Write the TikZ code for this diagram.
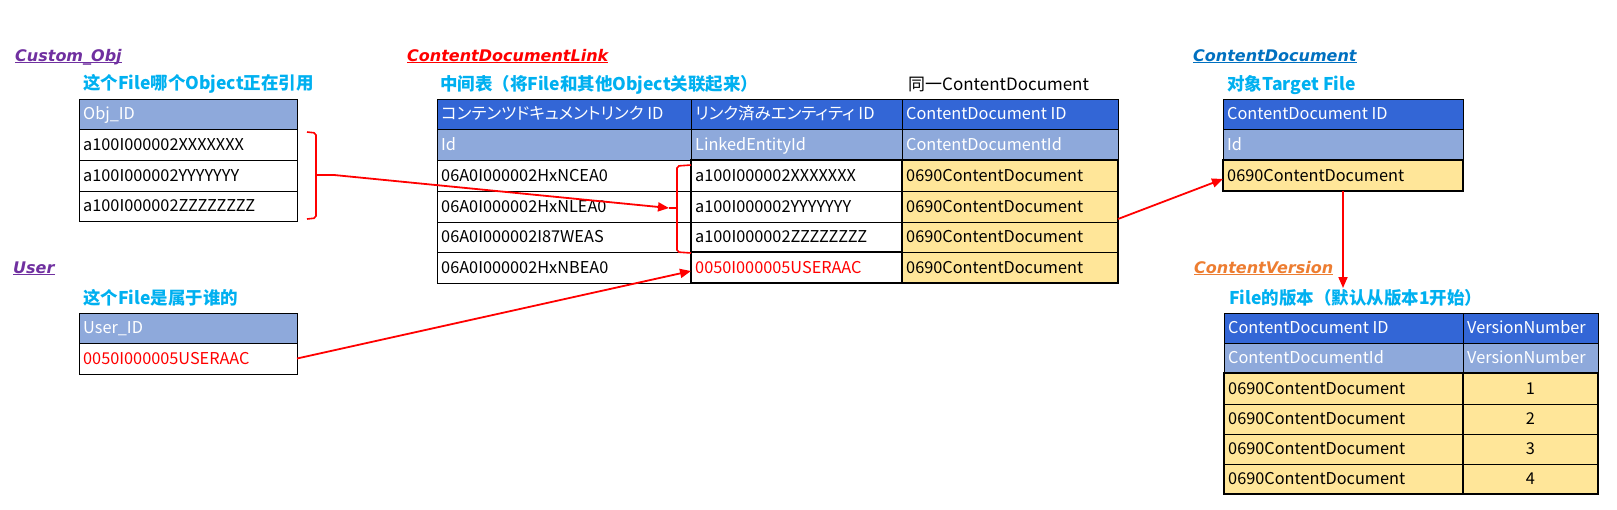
\documentclass[tikz,border=0pt]{standalone}
\usepackage{fontspec}
\newfontfamily\jpfont{Noto Sans CJK JP}
\newfontfamily\cnfont{Noto Sans CJK SC}
\newfontfamily\ttlfont{DejaVu Sans}
\usetikzlibrary{arrows.meta}
\definecolor{hdark}{RGB}{51,102,214}
\definecolor{hlight}{RGB}{142,169,219}
\definecolor{cyel}{RGB}{255,230,153}
\definecolor{tpurple}{RGB}{112,48,160}
\definecolor{tblue}{RGB}{0,112,192}
\definecolor{torange}{RGB}{237,125,49}
\definecolor{subcyan}{RGB}{0,176,240}
\tikzset{
  cellbox/.style={draw=black, line width=0.9pt, anchor=north west, inner sep=0pt, outer sep=0pt},
  dk/.style={cellbox, fill=hdark},
  lt/.style={cellbox, fill=hlight},
  wh/.style={cellbox, fill=white},
  ye/.style={cellbox, fill=cyel},
  ctext/.style={font=\jpfont\fontsize{16.3}{17}\selectfont, inner sep=0pt, anchor=base west},
  tw/.style={text=white},
  tr/.style={text=red},
  kana/.style={font=\jpfont\addfontfeature{RawFeature=+palt}\fontsize{16.5}{17}\selectfont},
  ttl/.style={font=\ttlfont\bfseries\itshape\fontsize{16}{16}\selectfont, anchor=base west, inner sep=0pt},
  uline/.style={line width=1.2pt},
  sub/.style={font=\cnfont\bfseries\fontsize{17.5}{18}\selectfont, text=subcyan, anchor=base west, inner sep=0pt},
  thickb/.style={draw=black, line width=2.6pt, line cap=rect},
  arr/.style={red, line width=1.8pt, -{Triangle[length=11pt,width=9pt]}},
  brk/.style={red, line width=1.6pt, rounded corners=2pt}
}
\newcommand\tcell[8]{%
  \node[#6, minimum width=#4pt, minimum height=#5pt] (#1) at (#2,#3) {};
  \node[ctext,#7] (#1t) at ([xshift=4pt,yshift=-5.8pt]#1.west) {#8};}
\newcommand\ccell[8]{%
  \node[#6, minimum width=#4pt, minimum height=#5pt] (#1) at (#2,#3) {};
  \node[ctext,anchor=base,#7] (#1t) at ([yshift=-5.8pt]#1.center) {#8};}
\begin{document}
\begin{tikzpicture}[x=1pt,y=-1pt]
\useasboundingbox (0,0) rectangle (1617,509);
% ---------- titles ----------
\node[ttl, text=tpurple] (tCO) at (15,61) {Custom\_Obj};
\draw[tpurple, uline] ([yshift=-1.5pt]tCO.base west) -- ([yshift=-1.5pt]tCO.base east);
\node[ttl, text=tpurple] (tU) at (13,273) {User};
\draw[tpurple, uline] ([yshift=-1.5pt]tU.base west) -- ([yshift=-1.5pt]tU.base east);
\node[ttl, text=red] (tL) at (407,61) {ContentDocumentLink};
\draw[red, uline] ([yshift=-1.5pt]tL.base west) -- ([yshift=-1.5pt]tL.base east);
\node[ttl, text=tblue] (tD) at (1193,61) {ContentDocument};
\draw[tblue, uline] ([yshift=-1.5pt]tD.base west) -- ([yshift=-1.5pt]tD.base east);
\node[ttl, text=torange] (tV) at (1194,273) {ContentVersion};
\draw[torange, uline] ([yshift=-1.5pt]tV.base west) -- ([yshift=-1.5pt]tV.base east);
% ---------- subtitles ----------
\node[sub] (sCO) at (83,89.5) {这个File哪个Object正在引用};
\node[sub] (sU) at (83,304.5) {这个File是属于谁的};
\node[sub] (sL) at (440,90.5) {中间表（将File和其他Object关联起来）};
\node[sub] (sD) at (1227,90.5) {对象Target File};
\node[sub] (sV) at (1229,304.5) {File的版本（默认从版本1开始）};
\node[ctext, font=\jpfont\fontsize{17}{17}\selectfont] (same) at (908,90) {同一ContentDocument};
% ---------- Custom_Obj table ----------
\tcell{co0}{79}{99}{218}{30}{lt}{tw}{Obj\_ID}
\tcell{co1}{79}{129}{218}{31}{wh}{}{a100I000002XXXXXXX}
\tcell{co2}{79}{160}{218}{31}{wh}{}{a100I000002YYYYYYY}
\tcell{co3}{79}{191}{218}{30}{wh}{}{a100I000002ZZZZZZZZ}
% ---------- User table ----------
\tcell{u0}{79}{313}{218}{30}{lt}{tw}{User\_ID}
\tcell{u1}{79}{343}{218}{31}{wh}{tr}{0050I000005USERAAC}
% ---------- ContentDocumentLink table ----------
\tcell{lh1}{437}{99}{254}{30}{dk}{tw,kana}{コンテンツドキュメントリンク ID}
\tcell{lh2}{691}{99}{211}{30}{dk}{tw,kana}{リンク済みエンティティ ID}
\tcell{lh3}{902}{99}{216}{30}{dk}{tw}{ContentDocument ID}
\tcell{lf1}{437}{129}{254}{31}{lt}{tw}{Id}
\tcell{lf2}{691}{129}{211}{31}{lt}{tw}{LinkedEntityId}
\tcell{lf3}{902}{129}{216}{31}{lt}{tw}{ContentDocumentId}
\tcell{l11}{437}{160}{254}{31}{wh}{}{06A0I000002HxNCEA0}
\tcell{l12}{437}{191}{254}{31}{wh}{}{06A0I000002HxNLEA0}
\tcell{l13}{437}{222}{254}{30}{wh}{}{06A0I000002I87WEAS}
\tcell{l14}{437}{252}{254}{31}{wh}{}{06A0I000002HxNBEA0}
\tcell{l21}{691}{160}{211}{31}{wh}{}{a100I000002XXXXXXX}
\tcell{l22}{691}{191}{211}{31}{wh}{}{a100I000002YYYYYYY}
\tcell{l23}{691}{222}{211}{30}{wh}{}{a100I000002ZZZZZZZZ}
\tcell{l24}{691}{252}{211}{31}{wh}{tr}{0050I000005USERAAC}
\tcell{l31}{902}{160}{216}{31}{ye}{}{0690ContentDocument}
\tcell{l32}{902}{191}{216}{31}{ye}{}{0690ContentDocument}
\tcell{l33}{902}{222}{216}{30}{ye}{}{0690ContentDocument}
\tcell{l34}{902}{252}{216}{31}{ye}{}{0690ContentDocument}
\draw[thickb] (l21.north west) rectangle (l34.south east);
\draw[thickb] (l31.north west) -- (l34.south west);
\draw[thickb] (l24.north west) -- (l24.north east);
% ---------- ContentDocument table ----------
\tcell{cd0}{1223}{99}{240}{30}{dk}{tw}{ContentDocument ID}
\tcell{cd1}{1223}{129}{240}{31}{lt}{tw}{Id}
\tcell{cd2}{1223}{160}{240}{31}{ye}{}{0690ContentDocument}
\draw[thickb] (cd2.north west) rectangle (cd2.south east);
% ---------- ContentVersion table ----------
\tcell{vh1}{1224}{313}{239}{30}{dk}{tw}{ContentDocument ID}
\tcell{vh2}{1463}{313}{135}{30}{dk}{tw}{VersionNumber}
\tcell{vf1}{1224}{343}{239}{30}{lt}{tw}{ContentDocumentId}
\tcell{vf2}{1463}{343}{135}{30}{lt}{tw}{VersionNumber}
\tcell{v11}{1224}{373}{239}{31}{ye}{}{0690ContentDocument}
\ccell{v12}{1463}{373}{135}{31}{ye}{}{1}
\tcell{v21}{1224}{404}{239}{30}{ye}{}{0690ContentDocument}
\ccell{v22}{1463}{404}{135}{30}{ye}{}{2}
\tcell{v31}{1224}{434}{239}{30}{ye}{}{0690ContentDocument}
\ccell{v32}{1463}{434}{135}{30}{ye}{}{3}
\tcell{v41}{1224}{464}{239}{30}{ye}{}{0690ContentDocument}
\ccell{v42}{1463}{464}{135}{30}{ye}{}{4}
\draw[thickb] (v11.north west) rectangle (v42.south east);
\draw[thickb] (v12.north west) -- (v42.south west);
% ---------- brackets and arrows ----------
\coordinate (b1m) at (316,175);
\coordinate (b1k) at (334,175);
\coordinate (b2m) at (677,208);
\coordinate (b2a) at (669,208);
\draw[brk] (307,132) -- (316,133) -- (316,218) -- (307,219);
\draw[brk] (l21.north west) ++(0,5) -- (677,166) -- (677,252) -- (691,253);
\draw[red, line width=1.6pt] (b2m) -- (b2a);
\draw[arr] (b1m) -- (b1k) -- (b2a);
\draw[arr] (u1.east) -- ([yshift=-3.5pt]l24.west);
\draw[arr] ([yshift=3pt]l32.south east) -- ([yshift=-3.5pt]cd2.west);
\coordinate (vtop) at (1344,288);
\draw[arr] (cd2.south) -- (cd2.south |- vtop);
\end{tikzpicture}
\end{document}
